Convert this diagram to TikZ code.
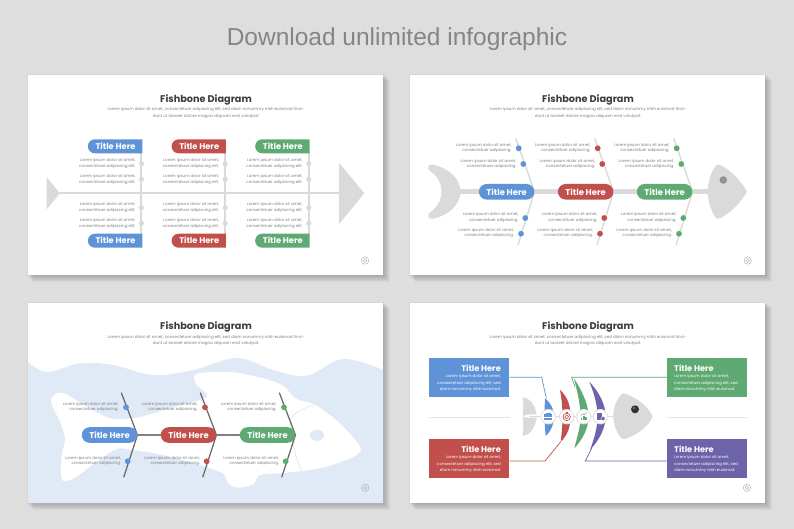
\documentclass[tikz,border=0pt]{standalone}
\usepackage{fontspec}
\setmainfont{Poppins}
\newfontfamily\headfont{Liberation Sans}
\usetikzlibrary{shapes.misc}
\definecolor{pagebg}{HTML}{DEDEDE}
\definecolor{fbblue}{HTML}{5E93D8}
\definecolor{fbred}{HTML}{C1504C}
\definecolor{fbgreen}{HTML}{5FAA72}
\definecolor{fbpurple}{HTML}{6C63A9}
\definecolor{bone}{HTML}{DADADA}
\definecolor{wavebg}{HTML}{E0E9F6}
\definecolor{titletxt}{HTML}{3C3C3C}
\definecolor{bodytxt}{HTML}{808080}
\pgfdeclarelayer{top}
\pgfsetlayers{main,top}
\tikzset{
  x=1pt,y=-1pt,
  slide/.style={fill=white,draw=none},
  slidetitle/.style={font=\fontsize{9.7}{12}\selectfont\bfseries,text=titletxt,inner sep=0},
  subtitle/.style={font=\fontsize{4.05}{6.2}\selectfont,text=bodytxt,align=center,inner sep=0},
  bodyA/.style={font=\fontsize{4}{6.3}\selectfont,text=bodytxt,align=right,inner sep=0,anchor=east},
  bodyB/.style={font=\fontsize{4}{5.1}\selectfont,text=bodytxt,align=right,inner sep=0,anchor=east},
  tag/.style={shape=rounded rectangle,rounded rectangle east arc=none,fill=#1,text=white,
    minimum width=54.4pt,minimum height=14pt,inner sep=0,font=\fontsize{8.3}{9}\selectfont\bfseries},
  pill/.style={shape=rounded rectangle,fill=#1,text=white,
    minimum width=55.5pt,minimum height=15.6pt,inner sep=0,font=\fontsize{8.4}{9}\selectfont\bfseries},
  tagdot/.style={circle,fill=#1,minimum size=5.8pt,inner sep=0},
  panel/.style={fill=#1,minimum width=80pt,minimum height=39.6pt,inner sep=0},
  boxtitle/.style={font=\fontsize{8.2}{9}\selectfont\bfseries,text=white,inner sep=0},
  boxbodyR/.style={font=\fontsize{3.95}{6.3}\selectfont,text=white,align=right,inner sep=0},
  boxbodyL/.style={font=\fontsize{3.95}{6.3}\selectfont,text=white,align=left,inner sep=0},
  wire/.style={draw=#1,line width=.7pt},
  ring/.style={circle,fill=white,draw=bone!75,line width=1pt,minimum size=14.4pt,inner sep=0},
}
\newcommand{\slidecard}[4]{%
  \foreach \o in {7,6,5,4,3,2,1}{\fill[black,opacity=.035] (#1+\o-2,#2+\o-2) rectangle (#3+\o,#4+\o);}
  \fill[slide] (#1,#2) rectangle (#3,#4);
}
\newcommand{\pagenum}[2]{%
  \draw[gray!70,line width=.4pt] (#1,#2) circle (3.7pt);
  \draw[gray!70,line width=.35pt] (#1,#2) circle (1.8pt);
}
\newcommand{\heading}[3]{%
  \node[slidetitle] at (#1,#2+.8) {Fishbone Diagram};
  \node[subtitle] at (#1,#3+.6) {Lorem ipsum dolor sit amet, consectetuer adipiscing elit, sed diam nonummy nibh euismod tinci-\\dunt ut laoreet dolore magna aliquam erat volutpat.};
}
\begin{document}
\begin{tikzpicture}
\useasboundingbox (0,0) rectangle (794,529);
\fill[pagebg] (0,0) rectangle (794,529);
\node[font=\headfont\fontsize{24.5}{28}\selectfont,text=black!48,inner sep=0] at (397,39.5) {Download unlimited infographic};
\slidecard{28}{75}{383}{275}
\slidecard{410}{75}{765}{275}
\slidecard{28}{303}{383}{503}
\slidecard{410}{303}{765}{503}

%% ---------- slide 1
\heading{206}{99}{112.4}
\coordinate (s1tailA) at (46.7,177.3);
\coordinate (s1tailB) at (46.7,209.3);
\coordinate (s1tailTip) at (60,193.3);
\coordinate (s1headA) at (339,162.7);
\coordinate (s1headB) at (339,224);
\coordinate (s1headTip) at (364.3,193.3);
\fill[bone] (s1tailA) -- (s1tailTip) -- (s1tailB) -- cycle;
\fill[bone] (s1headA) -- (s1headTip) -- (s1headB) -- cycle;
\draw[bone,line width=1.8pt] (s1tailTip) -- (s1headA |- s1tailTip);
\foreach \i/\cx/\c in {1/115.5/fbblue,2/199.2/fbred,3/282.8/fbgreen}{
  \begin{pgfonlayer}{top}
  \node[tag=\c] (s1top\i) at (\cx,146.3) {Title Here};
  \node[tag=\c] (s1bot\i) at (\cx,240.7) {Title Here};
  \end{pgfonlayer}
  \draw[bone,line width=2pt] ([xshift=-1pt]s1top\i.south east) -- ([xshift=-1pt]s1bot\i.north east);
  \foreach \n/\y in {a/163.7,b/179.3,c/207.7,d/223.3}{
    \coordinate (s1row) at (0,\y);
    \node[circle,fill=bone,minimum size=5.2pt,inner sep=0] (s1dot\i\n) at ([xshift=-1pt]s1top\i.south east |- s1row) {};
    \node[bodyA] at ([xshift=-6pt]s1dot\i\n.center) {Lorem ipsum dolor sit amet,\\consectetuer adipiscing elit.};
  }
}
\pagenum{365}{260.5}

%% ---------- slide 2
\heading{588}{99}{112.4}
\fill[bone] (433,164.6) .. controls (449,168.5) and (460,178) .. (460.5,191.7)
  .. controls (460,205) and (449,215) .. (433,218.8) .. controls (428,220) and (427,215) .. (429.5,213)
  .. controls (437.5,207) and (441.5,200) .. (441.5,191.7) .. controls (441.5,183) and (437.5,176) .. (429.5,170.5)
  .. controls (427,168.5) and (428,163.5) .. (433,164.6) -- cycle;
\fill[bone] (707.5,191.7) .. controls (708,182) and (711,172) .. (715.5,166)
  .. controls (716.5,164.5) and (718,164.2) .. (720,165) .. controls (731,170) and (742,182) .. (747,191.7)
  .. controls (742,201) and (731,213) .. (720,218.3) .. controls (718,219) and (716.5,218.8) .. (715.5,217.3)
  .. controls (711,211) and (708,201) .. (707.5,191.7) -- cycle;
\node[circle,fill=gray!85,minimum size=7.6pt,inner sep=0] (s2eye) at (723.3,180) {};
\coordinate (s2tail) at (458,191.7);
\coordinate (s2head) at (709,191.7);
\draw[bone,line width=5.6pt] (s2tail) -- (s2head);
\foreach \i/\dx/\c in {1/0/fbblue,2/79/fbred,3/158/fbgreen}{
  \begin{pgfonlayer}{top}
  \node[pill=\c] (s2p\i) at (506.6+\dx,191.8) {Title Here};
  \end{pgfonlayer}
  \coordinate (s2u\i) at (515.7+\dx,138.3);
  \coordinate (s2d\i) at (518+\dx,245);
  \draw[bone,line width=1.4pt] (s2u\i) -- (s2p\i.east);
  \draw[bone,line width=1.4pt] (s2d\i) -- (s2p\i.east);
  \node[tagdot=\c] (s2dota\i) at (518.7+\dx,148.3) {};
  \node[tagdot=\c] (s2dotb\i) at (523.3+\dx,164) {};
  \node[tagdot=\c] (s2dotc\i) at (525.3+\dx,218) {};
  \node[tagdot=\c] (s2dotd\i) at (521+\dx,233.7) {};
  \node[bodyB] at (511.7+\dx,148) {Lorem ipsum dolor sit amet,\\consectetuer adipiscing.};
  \node[bodyB] at (516.3+\dx,163.7) {Lorem ipsum dolor sit amet,\\consectetuer adipiscing.};
  \node[bodyB] at (518.7+\dx,217.5) {Lorem ipsum dolor sit amet,\\consectetuer adipiscing.};
  \node[bodyB] at (514+\dx,232.7) {Lorem ipsum dolor sit amet,\\consectetuer adipiscing.};
}
\pagenum{747.7}{260.5}

%% ---------- slide 3
\begin{scope}
\clip (28,303) rectangle (383,503);
\fill[wavebg] (28,503) -- (28,362) -- plot[smooth,tension=.6] coordinates {(28,362) (47,372) (80,363.5) (113,365) (153,375) (193,370) (237,358) (273,370) (307,375.7) (343,359) (383,370)} -- (383,503) -- cycle;
\fill[white] plot[smooth cycle,tension=.5] coordinates {(51,400) (55,394.3) (65,393.7) (86.7,406.7) (110,418.3) (136.7,417.7) (170,408.3) (206.7,397) (196.7,385) (194,376.7) (201.7,372.7) (233.3,372.3) (263.3,378.3) (283.3,385.7) (295,398.3) (308.3,402.3) (316.7,405.7) (340,423.3) (360.7,448.3) (350,458.3) (320,468.3) (286.7,472.7) (260,475) (253.3,484.3) (236.7,487.7) (228.3,483.3) (222.7,473.3) (200,465) (163.3,455) (133.3,450) (116.7,449) (96.7,461.7) (75,477.7) (63.3,481) (60.7,471.7) (61.7,455) (65,438.3) (60,421.7) (53.3,408.3)};
\draw[wavebg,line width=.8pt] (314,405) .. controls (298,410) and (289,416) .. (290,424) .. controls (291,440) and (296,458) .. (301.7,471);
\fill[wavebg] (317,435.3) ellipse (7pt and 5.6pt);
\end{scope}
\heading{206}{326}{339.8}
\foreach \i/\dx/\c in {1/0/fbblue,2/79/fbred,3/158/fbgreen}{
  \begin{pgfonlayer}{top}
  \node[pill=\c] (s3p\i) at (109.5+\dx,435) {Title Here};
  \end{pgfonlayer}
  \coordinate (s3u\i) at (121.3+\dx,392.7);
  \coordinate (s3d\i) at (123.7+\dx,477.3);
  \draw[black!60,line width=1.2pt] (s3u\i) -- (s3p\i.east);
  \draw[black!60,line width=1.2pt] (s3d\i) -- (s3p\i.east);
  \node[tagdot=\c] (s3dota\i) at (126+\dx,407.3) {};
  \node[tagdot=\c] (s3dotb\i) at (127.7+\dx,461.3) {};
  \node[bodyB] at (118.7+\dx,407) {Lorem ipsum dolor sit amet,\\consectetuer adipiscing.};
  \node[bodyB] at (121+\dx,461) {Lorem ipsum dolor sit amet,\\consectetuer adipiscing.};
}
\draw[gray,line width=2.6pt] (s3p1.east) -- (s3p2.west);
\draw[gray,line width=2.6pt] (s3p2.east) -- (s3p3.west);
\pagenum{365.3}{487.7}

%% ---------- slide 4
\heading{588}{326}{339.8}
\node[panel=fbblue]   (s4a) at (469.3,377.5) {};
\node[panel=fbred]    (s4b) at (469.3,458.5) {};
\node[panel=fbgreen]  (s4c) at (707,377.5) {};
\node[panel=fbpurple] (s4d) at (707,458.5) {};
\node[boxtitle,anchor=east] at (501,368.3) {Title Here};
\node[boxtitle,anchor=east] at (501,449.3) {Title Here};
\node[boxtitle,anchor=west] at (674,368.3) {Title Here};
\node[boxtitle,anchor=west] at (674,449.3) {Title Here};
\node[boxbodyR,anchor=east] at (501,383.3) {Lorem ipsum dolor sit amet,\\consectetuer adipiscing elit, sed\\diam nonummy nibh euismod.};
\node[boxbodyR,anchor=east] at (501,464.3) {Lorem ipsum dolor sit amet,\\consectetuer adipiscing elit, sed\\diam nonummy nibh euismod.};
\node[boxbodyL,anchor=west] at (674,383.3) {Lorem ipsum dolor sit amet,\\consectetuer adipiscing elit, sed\\diam nonummy nibh euismod.};
\node[boxbodyL,anchor=west] at (674,464.3) {Lorem ipsum dolor sit amet,\\consectetuer adipiscing elit, sed\\diam nonummy nibh euismod.};
\coordinate (s4row) at (0,416.7);
\draw[black!10,line width=.4pt] (s4a.west |- s4row) -- (s4a.east |- s4row);
\draw[black!10,line width=.4pt] (s4c.west |- s4row) -- (s4c.east |- s4row);
% tail
\fill[bone] (522.7,397.3) .. controls (530,398) and (535,405) .. (536.7,414.5) .. controls (532,414.5) and (525,414) .. (522.7,416.5) .. controls (523.5,410) and (523.5,404) .. (522.7,397.3) -- cycle;
\fill[bone] (522.7,436) .. controls (530,435) and (535,428) .. (536.7,417.5) .. controls (532,417.5) and (525,418) .. (522.7,416.5) .. controls (523.5,423) and (523.5,430) .. (522.7,436) -- cycle;
% head
\fill[bone] (613.3,416) .. controls (613.5,407) and (617,398) .. (622,394) .. controls (623,393.2) and (624,393.2) .. (626,394) .. controls (637,398) and (649,407) .. (652.7,416.7)
 .. controls (649,426) and (637,435) .. (626,438.6) .. controls (624,439.4) and (623,439.4) .. (622,438.6) .. controls (617,434) and (613.5,425) .. (613.3,416) -- cycle;
% spine
\coordinate (s4tail) at (530,416.5);
\coordinate (s4head) at (615,416.5);
\draw[bone,line width=1.8pt] (s4tail) -- (s4head);
% ribs
\fill[fbblue] (545,398.3) .. controls (552,404) and (553.8,410) .. (553.8,416.5) .. controls (553.8,424) and (552,430) .. (545.7,436) .. controls (544.6,428) and (544.3,410) .. (545,398.3) -- cycle;
\fill[fbred] (560,390) .. controls (568,397) and (570.8,407) .. (570.5,416.5) .. controls (570.5,426) and (568,435) .. (560.7,441.7) .. controls (561.5,435) and (562.5,426) .. (562.5,416.5) .. controls (562.5,407) and (561.5,398) .. (560,390) -- cycle;
\fill[fbgreen] (574,378.3) .. controls (582,391) and (588.5,404) .. (588.5,416.5) .. controls (588.5,428) and (583,439) .. (574.3,448.3) .. controls (577,437) and (580.5,428) .. (580.5,416.5) .. controls (580.5,404) and (577,391) .. (574,378.3) -- cycle;
\fill[fbpurple] (589.3,381.7) .. controls (600,393) and (605.5,405) .. (605.5,416.5) .. controls (605.5,428) and (600,439) .. (590,450) .. controls (594,439) and (597.5,428) .. (597.5,416.5) .. controls (597.5,405) and (594,393) .. (589.3,381.7) -- cycle;
% connectors
\coordinate (s4aM) at (541.7,377.3);
\coordinate (s4bM) at (545,461);
\coordinate (s4cM) at (571.7,377.3);
\coordinate (s4dM) at (585.3,461);
\coordinate (s4aE) at (546.3,398.3);
\coordinate (s4bE) at (560.7,441.7);
\coordinate (s4cE) at (575,386.7);
\coordinate (s4dE) at (591.7,448.3);
\draw[wire=fbblue] (s4a.east |- s4aM) -- (s4aM) -- (s4aE);
\draw[wire=fbred] (s4b.east |- s4bM) -- (s4bM) -- (s4bE);
\draw[wire=fbgreen] (s4c.west |- s4cM) -- (s4cM) -- (s4cE);
\draw[wire=fbpurple] (s4d.west |- s4dM) -- (s4dM) -- (s4dE);
% eye
\node[circle,fill=black!80,minimum size=8pt,inner sep=0] (s4eye) at (635,409.3) {};
\fill[white!70!black] (634,408) circle (.9pt);
% icons
\node[ring] (s4i1) at (548.3,416.7) {};
\node[ring] (s4i2) at (566.7,416.7) {};
\node[ring] (s4i3) at (583.7,416.7) {};
\node[ring] (s4i4) at (600.3,416.7) {};
\fill[fbblue] (544.4,414.4) rectangle (552.2,420);
\draw[fbblue,line width=.5pt] (546.6,414.4) -- (546.6,413) -- (550,413) -- (550,414.4);
\draw[white,line width=.3pt] (544.4,416.8) -- (552.2,416.8);
\draw[fbred,line width=.7pt] (566.7,416.9) circle (3.7pt);
\draw[fbred,line width=.6pt] (566.7,416.9) circle (1.9pt);
\fill[fbred] (565.8,412) rectangle (567.6,412.8);
\foreach \x/\h in {580.8/2.5,583/4,585.2/3}{\fill[fbgreen] (\x,420.2) rectangle (\x+1.5,420.2-\h);}
\draw[fbgreen,line width=.45pt] (580.6,415.5) -- (582.8,413.8) -- (584.2,414.8) -- (586.8,412.6);
\fill[fbpurple] (597.2,412.6) rectangle (602,420);
\node[circle,fill=fbpurple,draw=white,line width=.35pt,minimum size=4.2pt,inner sep=0] at (603,418.6) {};
\pagenum{747}{487.7}
\end{tikzpicture}
\end{document}
